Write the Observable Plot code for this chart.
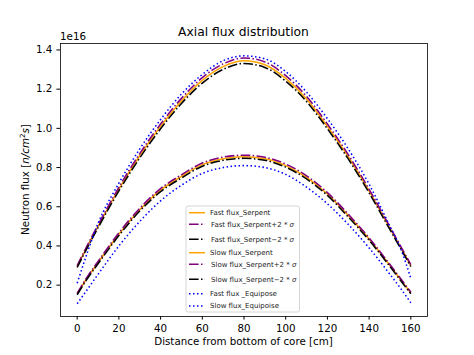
<!DOCTYPE html>
<html><head><meta charset="utf-8">
<script src="https://cdn.jsdelivr.net/npm/d3@7"></script>
<script src="https://cdn.jsdelivr.net/npm/@observablehq/plot@0.6"></script>
<style>
html,body{margin:0;padding:0;background:#fff;}
#chart{width:474px;height:355px;position:relative;}
</style>
</head><body><div id="chart"></div>
<script>
// Distance from bottom of core [cm]
const position = [0,5,10,20,30,40,50,60,70,80,90,100,110,120,130,140,150,155,160];
// Neutron flux, in units of 1e16 n/cm^2 s
const fastSerpent      = [0.295,0.400,0.500,0.690,0.860,1.010,1.140,1.245,1.315,1.345,1.325,1.255,1.150,1.010,0.855,0.680,0.490,0.395,0.300];
const fastSerpentPlus  = [0.300,0.406,0.507,0.699,0.871,1.022,1.153,1.259,1.329,1.359,1.339,1.269,1.163,1.022,0.866,0.689,0.497,0.401,0.305];
const fastSerpentMinus = [0.290,0.394,0.493,0.681,0.849,0.998,1.127,1.231,1.301,1.331,1.311,1.241,1.137,0.998,0.844,0.671,0.483,0.389,0.295];
const slowSerpent      = [0.155,0.240,0.315,0.460,0.585,0.685,0.755,0.815,0.845,0.855,0.845,0.810,0.750,0.665,0.555,0.435,0.300,0.230,0.160];
const slowSerpentPlus  = [0.159,0.245,0.321,0.467,0.592,0.693,0.763,0.823,0.853,0.863,0.853,0.818,0.758,0.672,0.562,0.441,0.305,0.235,0.164];
const slowSerpentMinus = [0.151,0.235,0.309,0.453,0.578,0.677,0.747,0.807,0.837,0.847,0.837,0.802,0.742,0.658,0.548,0.429,0.295,0.225,0.156];
const fastEquipoise    = [0.210,0.370,0.515,0.720,0.895,1.045,1.175,1.275,1.345,1.370,1.355,1.290,1.185,1.050,0.895,0.715,0.500,0.390,0.235];
const slowEquipoise    = [0.105,0.180,0.255,0.400,0.525,0.630,0.710,0.770,0.800,0.810,0.800,0.765,0.700,0.615,0.510,0.390,0.255,0.185,0.110];

const xTicks = [0,20,40,60,80,100,120,140,160];
const yTicks = [0.2,0.4,0.6,0.8,1.0,1.2,1.4];

const dashdot = "9.6,2.4,1.5,2.4";
const dotted = "1.5,2.5";
const series = [
  {label:"Fast flux_Serpent", sigma:null, values:fastSerpent, color:"#FFA500", dash:null},
  {label:"Fast flux_Serpent+2 * ", sigma:"σ", values:fastSerpentPlus, color:"#800080", dash:dashdot},
  {label:"Fast flux_Serpent\u22122 * ", sigma:"σ", values:fastSerpentMinus, color:"#000000", dash:dashdot},
  {label:"Slow flux_Serpent", sigma:null, values:slowSerpent, color:"#FFA500", dash:null},
  {label:"Slow flux_Serpent+2 * ", sigma:"σ", values:slowSerpentPlus, color:"#800080", dash:dashdot},
  {label:"Slow flux_Serpent\u22122 * ", sigma:"σ", values:slowSerpentMinus, color:"#000000", dash:dashdot},
  {label:"Fast flux _Equipose", sigma:null, values:fastEquipoise, color:"#0000FF", dash:dotted},
  {label:"Slow flux_Equipoise", sigma:null, values:slowEquipoise, color:"#0000FF", dash:dotted}
];

const W = 474, H = 355, mL = 60, mR = 47, mT = 43, mB = 39;
const font = "DejaVu Sans";

const svg = Plot.plot({
  width: W, height: H,
  marginLeft: mL, marginRight: mR, marginTop: mT, marginBottom: mB,
  style: {fontFamily: font, fontSize: "10px", background: "white", color: "black"},
  x: {domain: [-8, 168]},
  y: {domain: [0.04, 1.433]},
  marks: [
    ...series.map(s => Plot.line(position, {
      x: d => d, y: (d, i) => s.values[i],
      stroke: s.color, strokeWidth: 1.55, strokeDasharray: s.dash,
      strokeLinecap: "butt", curve: "monotone-x"
    })),
    Plot.frame({stroke: "black", strokeWidth: 0.8}),
    Plot.axisX({ticks: xTicks, tickSize: 3.6, tickPadding: 4.4, label: null, fontSize: 10.3, tickFormat: d => String(d)}),
    Plot.axisY({ticks: yTicks, tickSize: 3.6, tickPadding: 4.5, label: null, fontSize: 10.3, tickFormat: d => d.toFixed(1)})
  ]
});
document.getElementById("chart").appendChild(svg);

const g = d3.select(svg).append("g").attr("font-family", font).attr("fill", "black")
  .attr("text-anchor", "start");
const cx = (mL + (W - mR)) / 2;
g.append("text").attr("x", cx).attr("y", 36).attr("text-anchor", "middle")
  .attr("font-size", 12.3).text("Axial flux distribution");
g.append("text").attr("x", mL).attr("y", 40).attr("text-anchor", "start")
  .attr("font-size", 10.3).text("1e16");
g.append("text").attr("x", cx).attr("y", 345).attr("text-anchor", "middle")
  .attr("font-size", 10.3).text("Distance from bottom of core [cm]");
const yl = g.append("text").attr("transform", `translate(29,${(mT + H - mB) / 2}) rotate(-90)`)
  .attr("text-anchor", "middle").attr("font-size", 10.3);
yl.append("tspan").text("Neutron flux [");
yl.append("tspan").attr("font-style", "italic").text("n/cm");
yl.append("tspan").attr("font-size", 7.2).attr("dy", -4).text("2");
yl.append("tspan").attr("font-style", "italic").attr("dy", 4).text("s");
yl.append("tspan").text("]");

// legend
const lg = g.append("g");
lg.append("rect").attr("x", 186).attr("y", 206).attr("width", 113.5).attr("height", 106)
  .attr("rx", 2).attr("fill", "white").attr("fill-opacity", 0.8)
  .attr("stroke", "#cccccc").attr("stroke-width", 0.8);
const rowY = [212.7, 224.3, 239.3, 252.7, 264.3, 279.3, 293.7, 306];
series.forEach((s, i) => {
  const y = rowY[i];
  lg.append("line").attr("x1", 189).attr("x2", 205).attr("y1", y).attr("y2", y)
    .attr("stroke", s.color).attr("stroke-width", 1.55)
    .attr("stroke-dasharray", s.dash);
  const t = lg.append("text").attr("x", s.sigma ? 211 : 210).attr("y", y).attr("dy", "0.35em")
    .attr("text-anchor", "start").attr("font-size", 7).attr("fill", "#222");
  t.append("tspan").text(s.label);
  if (s.sigma) t.append("tspan").attr("font-style", "italic").text(s.sigma);
});
</script>
</body></html>
